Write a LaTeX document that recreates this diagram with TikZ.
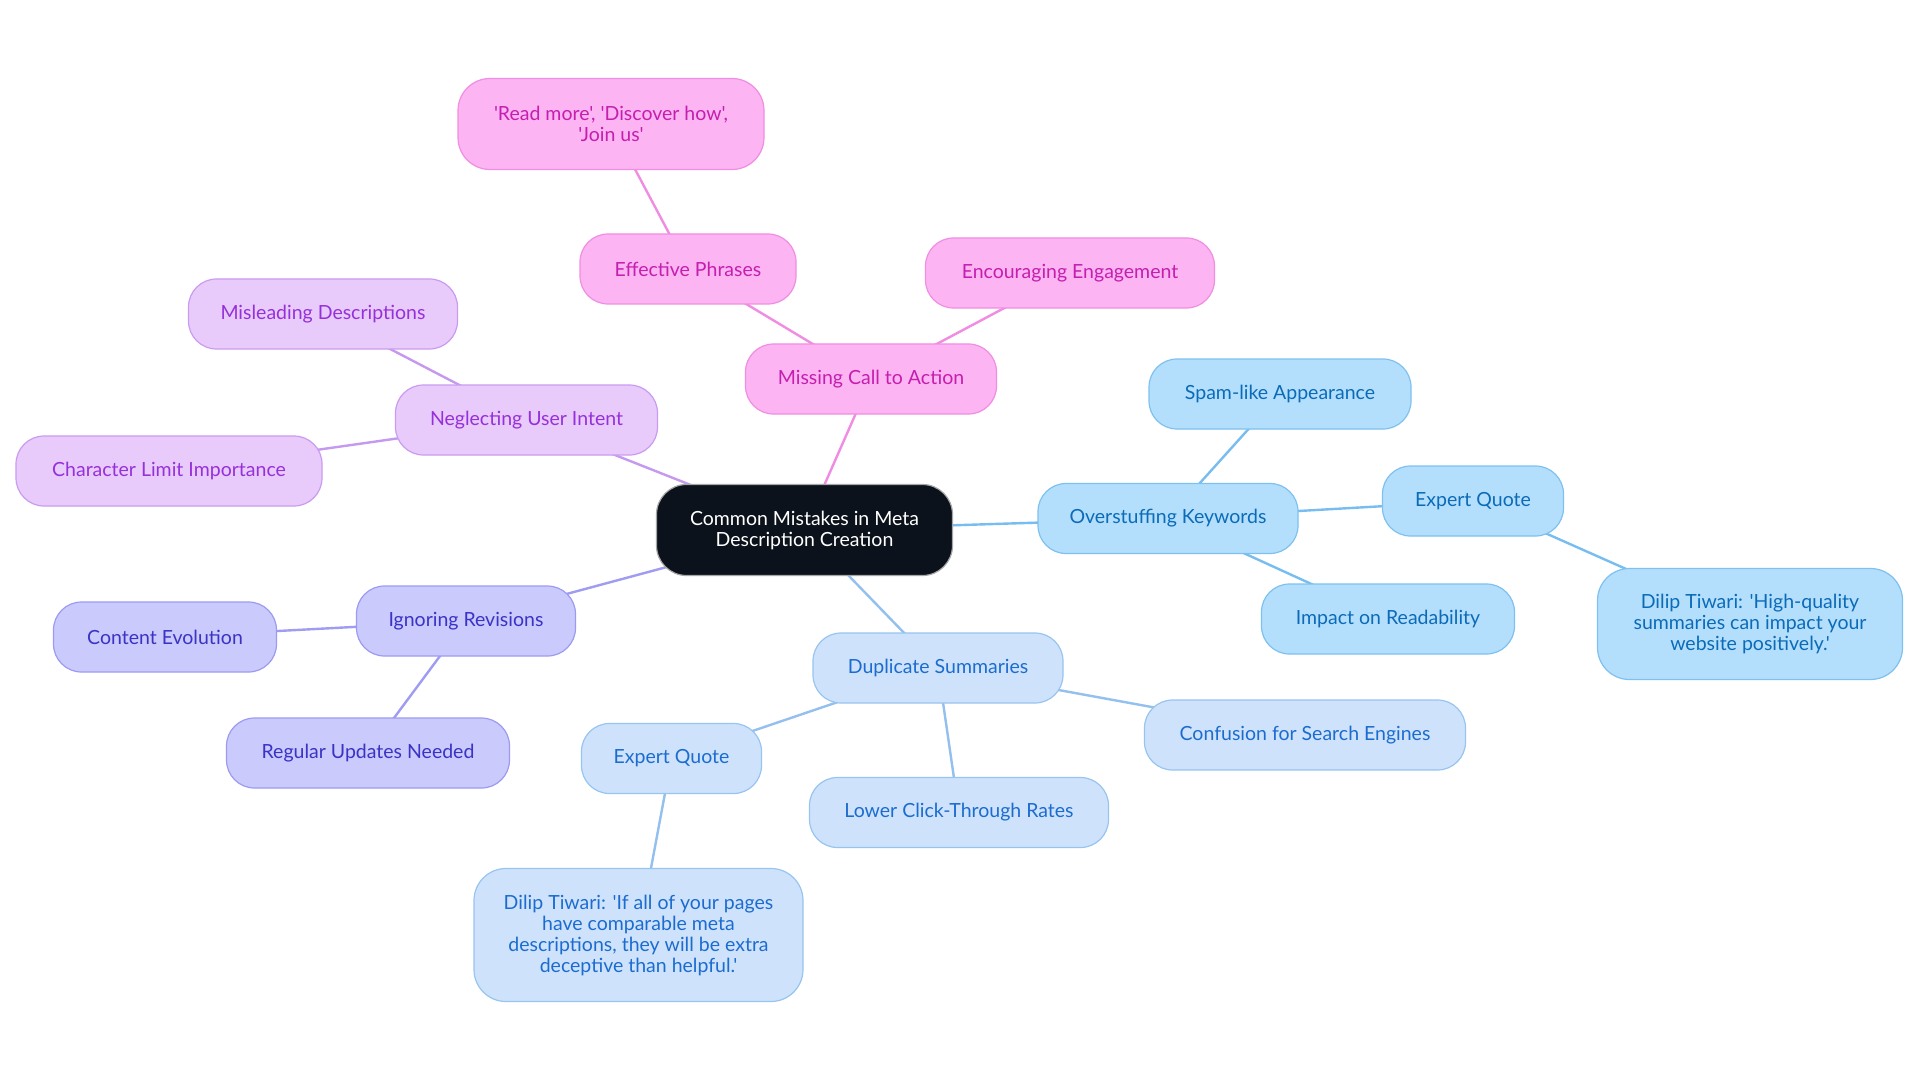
\documentclass[tikz,border=0pt]{standalone}
\usepackage{fontspec}
\newfontfamily\lato{Lato}
\usetikzlibrary{backgrounds}
\definecolor{pinkF}{HTML}{FDB4F3}
\definecolor{pinkD}{HTML}{EF8EE2}
\definecolor{pinkT}{HTML}{C41FAE}
\definecolor{pinkL}{HTML}{F08CE2}
\definecolor{purF}{HTML}{E8CAFB}
\definecolor{purD}{HTML}{CB9BF1}
\definecolor{purT}{HTML}{9631DA}
\definecolor{purL}{HTML}{C699F0}
\definecolor{indF}{HTML}{CACAFC}
\definecolor{indD}{HTML}{9C9BF1}
\definecolor{indT}{HTML}{3A33C5}
\definecolor{indL}{HTML}{9F9CF2}
\definecolor{bluF}{HTML}{CEE3FB}
\definecolor{bluD}{HTML}{98C4F0}
\definecolor{bluT}{HTML}{1C6CD0}
\definecolor{bluL}{HTML}{94C0EF}
\definecolor{skyF}{HTML}{B4DFFC}
\definecolor{skyD}{HTML}{7EC1F0}
\definecolor{skyT}{HTML}{0B6BB8}
\definecolor{skyL}{HTML}{78BDF0}
\definecolor{cenF}{HTML}{0C121B}
\begin{document}
\begin{tikzpicture}[x=1pt,y=-1pt,
  box/.style={rectangle, rounded corners=28pt, draw, line width=1.2pt, minimum height=70pt,
    align=center, inner sep=0pt, font=\lato\fontsize{19.5}{21}\selectfont},
  tall/.style={rounded corners=32pt},
  pinkbox/.style={box, fill=pinkF, draw=pinkD, text=pinkT},
  purbox/.style={box, fill=purF, draw=purD, text=purT},
  indbox/.style={box, fill=indF, draw=indD, text=indT},
  blubox/.style={box, fill=bluF, draw=bluD, text=bluT},
  skybox/.style={box, fill=skyF, draw=skyD, text=skyT},
  cenbox/.style={box, fill=cenF, draw=gray!70, text=white, rounded corners=30pt},
  pinkline/.style={draw=pinkL, line width=2.4pt},
  purline/.style={draw=purL, line width=2.4pt},
  indline/.style={draw=indL, line width=2.4pt},
  bluline/.style={draw=bluL, line width=2.4pt},
  skyline/.style={draw=skyL, line width=2.4pt}
]
\useasboundingbox (0,0) rectangle (1920,1083);

\node[cenbox, minimum width=296pt, minimum height=91pt] (c) at (804.5,530) {Common Mistakes in Meta\\Description Creation};

\node[pinkbox, minimum width=251pt] (mca) at (871,379) {Missing Call to Action};
\node[pinkbox, minimum width=216pt] (eph) at (688,269) {Effective Phrases};
\node[pinkbox, tall, minimum width=306pt, minimum height=91pt] (rm) at (611,124) {'Read more', 'Discover how',\\'Join us'};
\node[pinkbox, minimum width=289pt] (enc) at (1070,273) {Encouraging Engagement};

\node[purbox, minimum width=262pt] (nui) at (526.5,420) {Neglecting User Intent};
\node[purbox, minimum width=269pt] (mis) at (323,314) {Misleading Descriptions};
\node[purbox, minimum width=306pt] (cli) at (169,471) {Character Limit Importance};

\node[indbox, minimum width=219pt] (ir) at (466,621) {Ignoring Revisions};
\node[indbox, minimum width=223pt] (ce) at (165,637) {Content Evolution};
\node[indbox, minimum width=283pt] (run) at (368,753) {Regular Updates Needed};

\node[blubox, minimum width=250pt] (ds) at (938,668) {Duplicate Summaries};
\node[blubox, minimum width=180pt] (eq1) at (671.5,758.5) {Expert Quote};
\node[blubox, tall, minimum width=329pt, minimum height=133pt] (dq1) at (638.5,935) {Dilip Tiwari: 'If all of your pages\\have comparable meta\\descriptions, they will be extra\\deceptive than helpful.'};
\node[blubox, minimum width=299pt] (lct) at (959,812.5) {Lower Click-Through Rates};
\node[blubox, minimum width=321pt] (cse) at (1305,735) {Confusion for Search Engines};

\node[skybox, minimum width=260pt] (ok) at (1168,518.5) {Overstuffing Keywords};
\node[skybox, minimum width=262pt] (spa) at (1280,394) {Spam-like Appearance};
\node[skybox, minimum width=181pt] (eq2) at (1473,501) {Expert Quote};
\node[skybox, minimum width=253pt] (ior) at (1388,619) {Impact on Readability};
\node[skybox, tall, minimum width=305pt, minimum height=111pt] (dq2) at (1750,624) {Dilip Tiwari: 'High-quality\\summaries can impact your\\website positively.'};

\begin{scope}[on background layer]
\fill[white] (0,0) rectangle (1920,1083);
\draw[pinkline] (c.center) -- (mca.center);
\draw[pinkline] (mca.center) -- (eph.center);
\draw[pinkline] (eph.center) -- (rm.center);
\draw[pinkline] (mca.center) -- (enc.center);
\draw[purline] (c.center) -- (nui.center);
\draw[purline] (nui.center) -- (mis.center);
\draw[purline] (nui.center) -- (cli.center);
\draw[indline] (c.center) -- (ir.center);
\draw[indline] (ir.center) -- (ce.center);
\draw[indline] (ir.center) -- (run.center);
\draw[bluline] (c.center) -- (ds.center);
\draw[bluline] (ds.center) -- (eq1.center);
\draw[bluline] (eq1.center) -- (dq1.center);
\draw[bluline] (ds.center) -- (lct.center);
\draw[bluline] (ds.center) -- (cse.center);
\draw[skyline] (c.center) -- (ok.center);
\draw[skyline] (ok.center) -- (spa.center);
\draw[skyline] (ok.center) -- (eq2.center);
\draw[skyline] (eq2.center) -- (dq2.center);
\draw[skyline] (ok.center) -- (ior.center);
\end{scope}
\end{tikzpicture}
\end{document}
